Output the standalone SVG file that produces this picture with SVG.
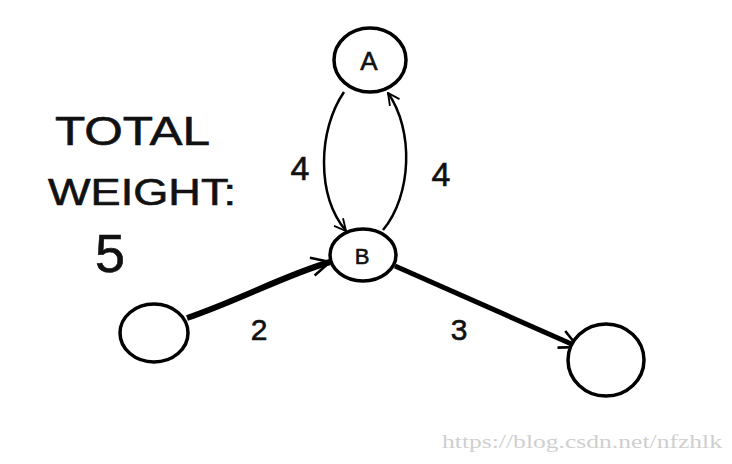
<svg xmlns="http://www.w3.org/2000/svg" width="732" height="464" viewBox="0 0 732 464">
<style>
.node{fill:#fff;stroke:#000;stroke-width:3.5}
.edge{fill:none;stroke:#000}
.hand{font-family:"Liberation Sans",Arial,sans-serif;fill:#111;stroke:#111;stroke-width:0.6}
</style>
<defs>
<marker id="arr" viewBox="0 0 12 12" refX="11" refY="6" markerWidth="14" markerHeight="14" markerUnits="userSpaceOnUse" orient="auto">
<path d="M1,1 L11,6 L1,11" fill="none" stroke="#000" stroke-width="1.6"/>
</marker>
<marker id="arrB" viewBox="0 0 12 12" refX="11" refY="6" markerWidth="22" markerHeight="22" markerUnits="userSpaceOnUse" orient="auto">
<path d="M1,1 L11,6 L1,11" fill="none" stroke="#000" stroke-width="1.4"/>
</marker>
</defs>
<rect width="732" height="464" fill="#fff"/>
<g id="connectors">
<path class="edge" d="M344,92 C318,130 316,195 346,231" stroke-width="2.5" marker-end="url(#arr)"/>
<path class="edge" d="M383,230 C412,195 414,130 388,93" stroke-width="2.5" marker-end="url(#arr)"/>
<path class="edge" d="M187,318 C240,300 285,275 330,262" stroke-width="6"/>
<path class="edge" d="M300,270 L330,262" stroke-width="1" marker-end="url(#arrB)"/>
<path class="edge" d="M395,266 L576,346" stroke-width="5"/>
<path class="edge" d="M550,334 L578,347" stroke-width="1" marker-end="url(#arrB)"/>
<text class="hand" x="300" y="180" font-size="34" text-anchor="middle">4</text>
<text class="hand" x="441" y="186" font-size="34" text-anchor="middle">4</text>
<text class="hand" x="259" y="340" font-size="30" text-anchor="middle">2</text>
<text class="hand" x="459" y="340" font-size="30" text-anchor="middle">3</text>
</g>
<g id="node-A">
<ellipse class="node" cx="370" cy="60" rx="36" ry="32"/>
<text class="hand" x="369" y="70" font-size="26" text-anchor="middle">A</text>
</g>
<g id="node-B">
<ellipse class="node" cx="363" cy="255" rx="33" ry="26"/>
<text class="hand" x="362" y="264" font-size="22" text-anchor="middle">B</text>
</g>
<g id="node-left">
<ellipse class="node" cx="154" cy="333" rx="34" ry="29"/>
</g>
<g id="node-right">
<ellipse class="node" cx="606" cy="360" rx="38" ry="36"/>
</g>
<g id="total">
<text class="hand" x="55" y="145" font-size="40" textLength="155" lengthAdjust="spacingAndGlyphs">TOTAL</text>
<text class="hand" x="48" y="205" font-size="36" textLength="188" lengthAdjust="spacingAndGlyphs">WEIGHT:</text>
<text class="hand" x="110" y="272" font-size="54" text-anchor="middle">5</text>
</g>
<text x="442" y="448" font-family="'Liberation Serif',serif" font-size="18" fill="#cfcfcf" textLength="280" lengthAdjust="spacingAndGlyphs">https://blog.csdn.net/nfzhlk</text>
</svg>
